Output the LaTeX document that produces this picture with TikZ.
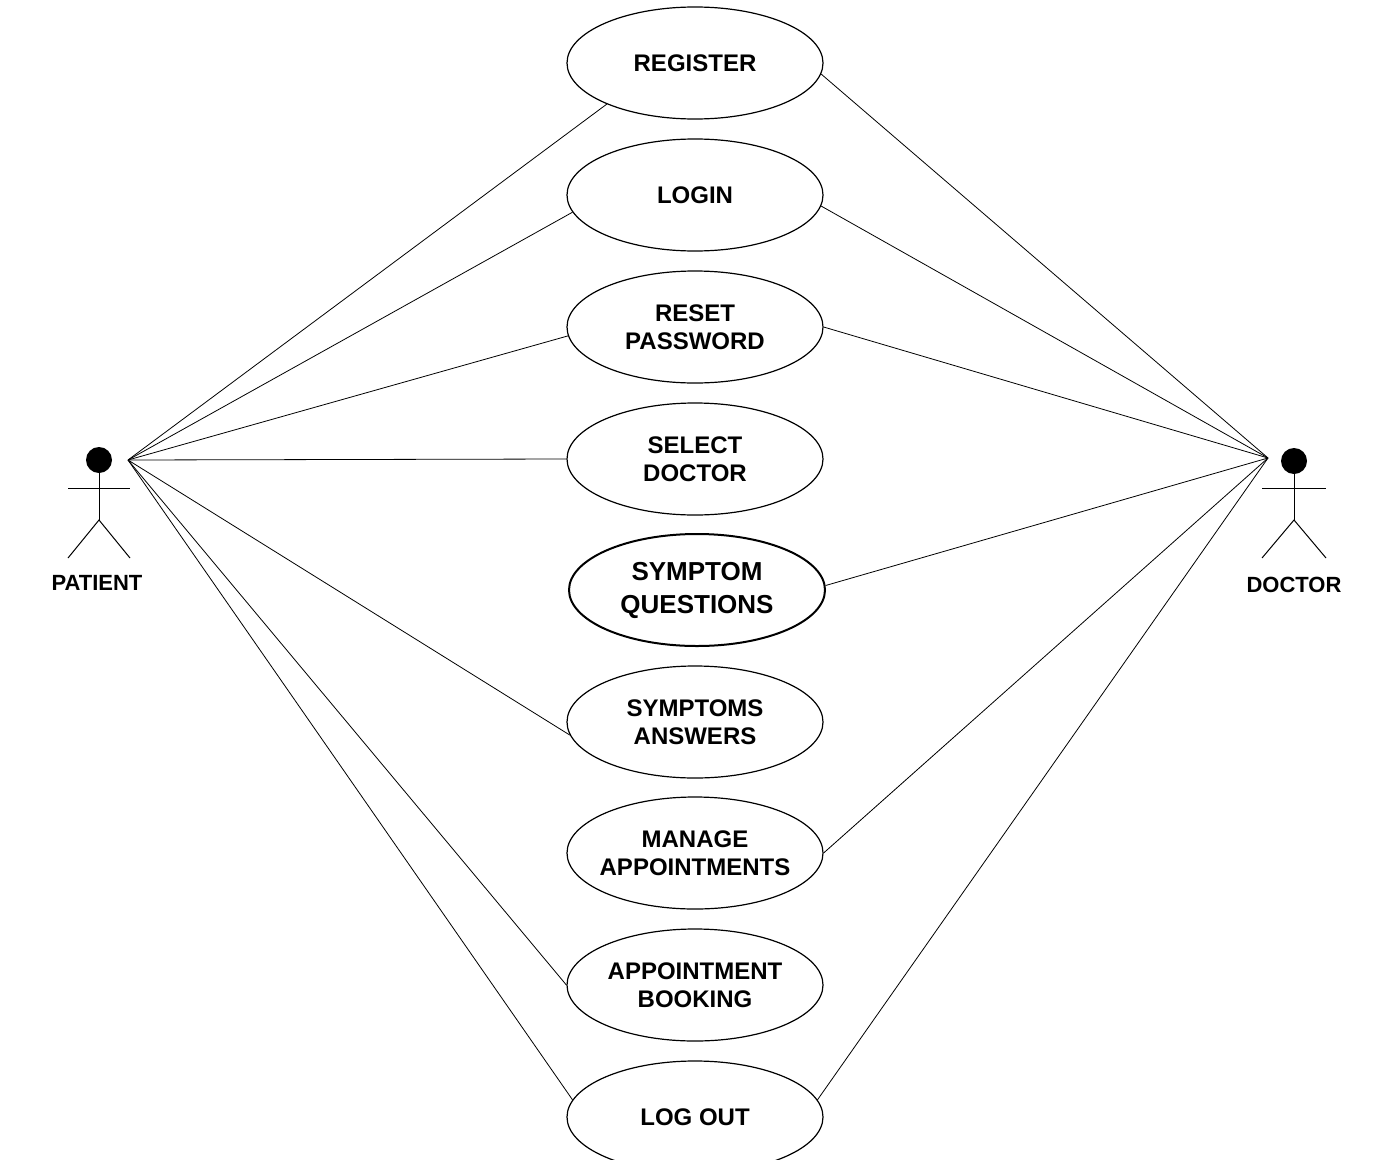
\documentclass[tikz,border=0pt]{standalone}
\usepackage{fontspec}
\setmainfont{Liberation Sans}
\usetikzlibrary{shapes.geometric}
\begin{document}
\begin{tikzpicture}[x=1pt,y=-1pt,
  uc/.style={ellipse,draw,line width=1.2pt,minimum width=256pt,minimum height=112pt,inner sep=0pt,align=center,font=\fontsize{24}{28}\selectfont\bfseries},
  lnk/.style={line width=0.8pt},
  lbl/.style={font=\fontsize{22}{24}\selectfont\bfseries}]
\useasboundingbox (0,0) rectangle (1378,1159);
\node[uc] (u1) at (695,63) {REGISTER};
\node[uc] (u2) at (695,195) {LOGIN};
\node[uc] (u3) at (695,327) {RESET\\PASSWORD};
\node[uc] (u4) at (695,459) {SELECT\\DOCTOR};
\node[uc,line width=2pt,font=\fontsize{26}{33}\selectfont\bfseries] (u5) at (697,590) {SYMPTOM\\QUESTIONS};
\node[uc] (u6) at (695,722) {SYMPTOMS\\ANSWERS};
\node[uc,inner xsep=-25pt] (u7) at (695,853) {MANAGE\\APPOINTMENTS};
\node[uc] (u8) at (695,985) {APPOINTMENT\\BOOKING};
\node[uc] (u9) at (695,1117) {LOG OUT};
% patient
\fill (99,460) circle (13);
\draw[line width=1pt] (99,472) -- (99,520) coordinate (ph);
\draw[line width=1pt] (68,488) -- (130,488);
\draw[line width=1pt] (68,558) -- (ph) -- (130,558);
\node[lbl] (pl) at (97,583) {PATIENT};
\coordinate (P) at (128,460);
% doctor
\fill (1294,461) circle (13);
\draw[line width=1pt] (1294,473) -- (1294,520) coordinate (dh);
\draw[line width=1pt] (1262,488) -- (1326,488);
\draw[line width=1pt] (1262,558) -- (dh) -- (1326,558);
\node[lbl] (dl) at (1294,585) {DOCTOR};
\coordinate (D) at (1268,458);
\foreach \u/\a in {u1/205,u2/188,u3/184,u4/180,u6/186,u8/180,u9/172} \draw[lnk] (P) -- (\u.\a);
\foreach \u/\a in {u1/355,u2/355,u3/0,u5/2,u7/0,u9/8} \draw[lnk] (D) -- (\u.\a);
\end{tikzpicture}
\end{document}
